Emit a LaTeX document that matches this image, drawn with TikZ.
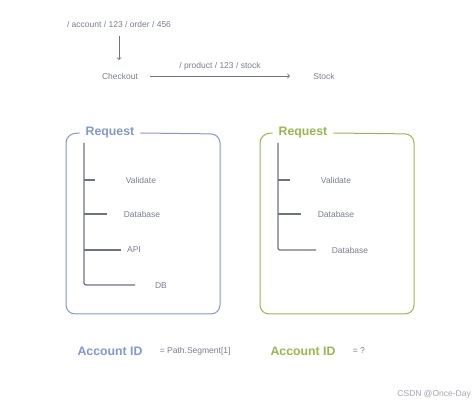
\documentclass[tikz,border=0pt]{standalone}
\usepackage{fontspec}
\setmainfont{Liberation Sans}
\usetikzlibrary{arrows, positioning}
\definecolor{reqblue}{RGB}{128, 151, 214}
\definecolor{reqgreen}{RGB}{150, 184, 74}
\definecolor{txtgray}{RGB}{120, 125, 145}
\definecolor{linegray}{RGB}{110, 114, 134}
\tikzstyle{lbl} = [text=txtgray, font=\fontsize{8.5}{10}\selectfont, inner sep=1pt]
\tikzstyle{title} = [font=\fontsize{12.3}{14}\selectfont\bfseries, inner sep=6pt]
\tikzstyle{frame} = [line width=1pt, rounded corners=9pt]
\tikzstyle{tree} = [line width=1.2pt, draw=linegray, rounded corners=2pt]
\tikzstyle{arrow} = [line width=0.9pt, draw=linegray, ->, >=to]

\begin{document}
\begin{tikzpicture}[x=1pt, y=-1pt]
    \useasboundingbox (0,0) rectangle (474,403);

    % Routing (top)
    \node (path) [lbl] at (119,24) {/ account / 123 / order / 456};
    \node (checkout) [lbl] at (120,76) {Checkout};
    \node (stock) [lbl] at (324,76) {Stock};
    \coordinate (arrtop) at (119,36);
    \coordinate (arrstart) at (150,76);
    \coordinate (arrend) at (290,76);
    \draw [arrow] (arrtop) -- (119,60);
    \draw [arrow] (arrstart) -- node[lbl, above=4pt] {/ product / 123 / stock} (arrend);

    % Left request (blue)
    \node (reqL) [title, text=reqblue] at (110,133) {Request};
    \draw [frame, draw=reqblue] (reqL.east) -- (220,134) -- (220,314) -- (66,314) -- (66,134) -- (reqL.west);
    \node (valL) [lbl] at (141,180) {Validate};
    \node (dbaseL) [lbl] at (142,214) {Database};
    \node (apiL) [lbl] at (134,250) {API};
    \node (dbL) [lbl] at (161,286) {DB};
    \coordinate (rootL) at (84,143);
    \coordinate (endL) at (135,285);
    \draw [tree] (rootL) |- (endL);
    \draw [tree] (84,180) -- (95,180);
    \draw [tree] (84,214) -- (107,214);
    \draw [tree] (84,250) -- (121,250);

    % Right request (green)
    \node (reqR) [title, text=reqgreen] at (303,133) {Request};
    \draw [frame, draw=reqgreen] (reqR.east) -- (414,134) -- (414,314) -- (260,314) -- (260,134) -- (reqR.west);
    \node (valR) [lbl] at (336,180) {Validate};
    \node (dbaseR) [lbl] at (336,214) {Database};
    \node (dbaseR2) [lbl] at (350,250) {Database};
    \coordinate (rootR) at (278,143);
    \coordinate (endR) at (316,250);
    \draw [tree] (rootR) |- (endR);
    \draw [tree] (278,180) -- (290,180);
    \draw [tree] (278,214) -- (301,214);

    % Account ID
    \node (accL) [title, text=reqblue, inner sep=1pt] at (110,351) {Account ID};
    \node (segL) [lbl, right=15pt of accL] {= Path.Segment[1]};
    \node (accR) [title, text=reqgreen, inner sep=1pt] at (303,351) {Account ID};
    \node (segR) [lbl, right=15pt of accR] {= ?};

    \node (mark) [lbl, text=txtgray!70, anchor=east] at (472,394) {CSDN @Once-Day};
\end{tikzpicture}
\end{document}
